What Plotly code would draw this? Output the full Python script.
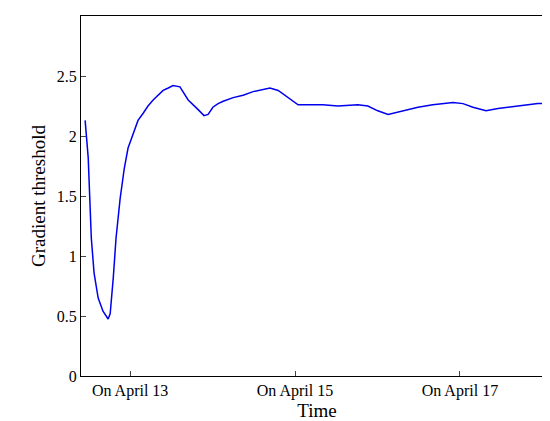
import plotly.graph_objects as go

hours = [-13.1,-12.2,-11.3,-10.5,-9.3,-7.9,-6.4,-5.8,-4.9,-4.1,-2.9,-1.7,-0.6,0.9,2.3,3.8,5.2,6.7,8.1,9.6,11.1,12.5,14.5,16.9,19.8,21.5,22.7,24.1,25.6,27.1,30.0,32.9,35.8,38.7,40.7,43.1,46.0,48.9,51.8,56.1,60.5,66.3,69.2,72.1,75.1,76.5,79.4,83.8,88.1,94.0,96.9,99.8,103.6,107.1,112.9,118.7,121.0,123.1]
threshold = [2.13,1.82,1.15,0.86,0.65,0.54,0.475,0.52,0.82,1.15,1.48,1.73,1.9,2.02,2.13,2.19,2.25,2.3,2.34,2.38,2.4,2.42,2.41,2.3,2.22,2.17,2.18,2.24,2.27,2.29,2.32,2.34,2.37,2.39,2.40,2.38,2.32,2.26,2.26,2.26,2.25,2.26,2.25,2.21,2.18,2.19,2.21,2.24,2.26,2.28,2.27,2.24,2.21,2.23,2.25,2.27,2.27,2.26]
tick_hours = [0, 48, 96]
tick_labels = ["On April 13", "On April 15", "On April 17"]

fig = go.Figure(go.Scatter(x=hours, y=threshold, mode="lines",
                           line=dict(color="#0000ee", width=1.5)))
font = dict(family="Liberation Serif, DejaVu Serif, serif", size=16, color="black")
fig.update_layout(width=550, height=421, margin=dict(l=73, r=5, t=8, b=53, autoexpand=False),
                  plot_bgcolor="white", paper_bgcolor="white", font=font, showlegend=False)
fig.update_xaxes(range=[-14.3, 123.1], tickvals=tick_hours, ticktext=tick_labels, automargin=False,
                 showline=True, mirror=True, linecolor="black", linewidth=1,
                 ticks="inside", ticklen=5, showgrid=False, zeroline=False,
                 title=dict(text="Time", standoff=4))
fig.update_yaxes(range=[0, 3.0001], tickvals=[0, 0.5, 1, 1.5, 2, 2.5, 3],
                 ticktext=["0", "0.5", "1", "1.5", "2", "2.5", "3"], automargin=False,
                 showline=True, mirror=True, linecolor="black",
                 linewidth=1, ticks="inside", ticklen=5, showgrid=False, zeroline=False,
                 title=dict(text="Gradient threshold", standoff=6))
fig.write_html("out.html")
